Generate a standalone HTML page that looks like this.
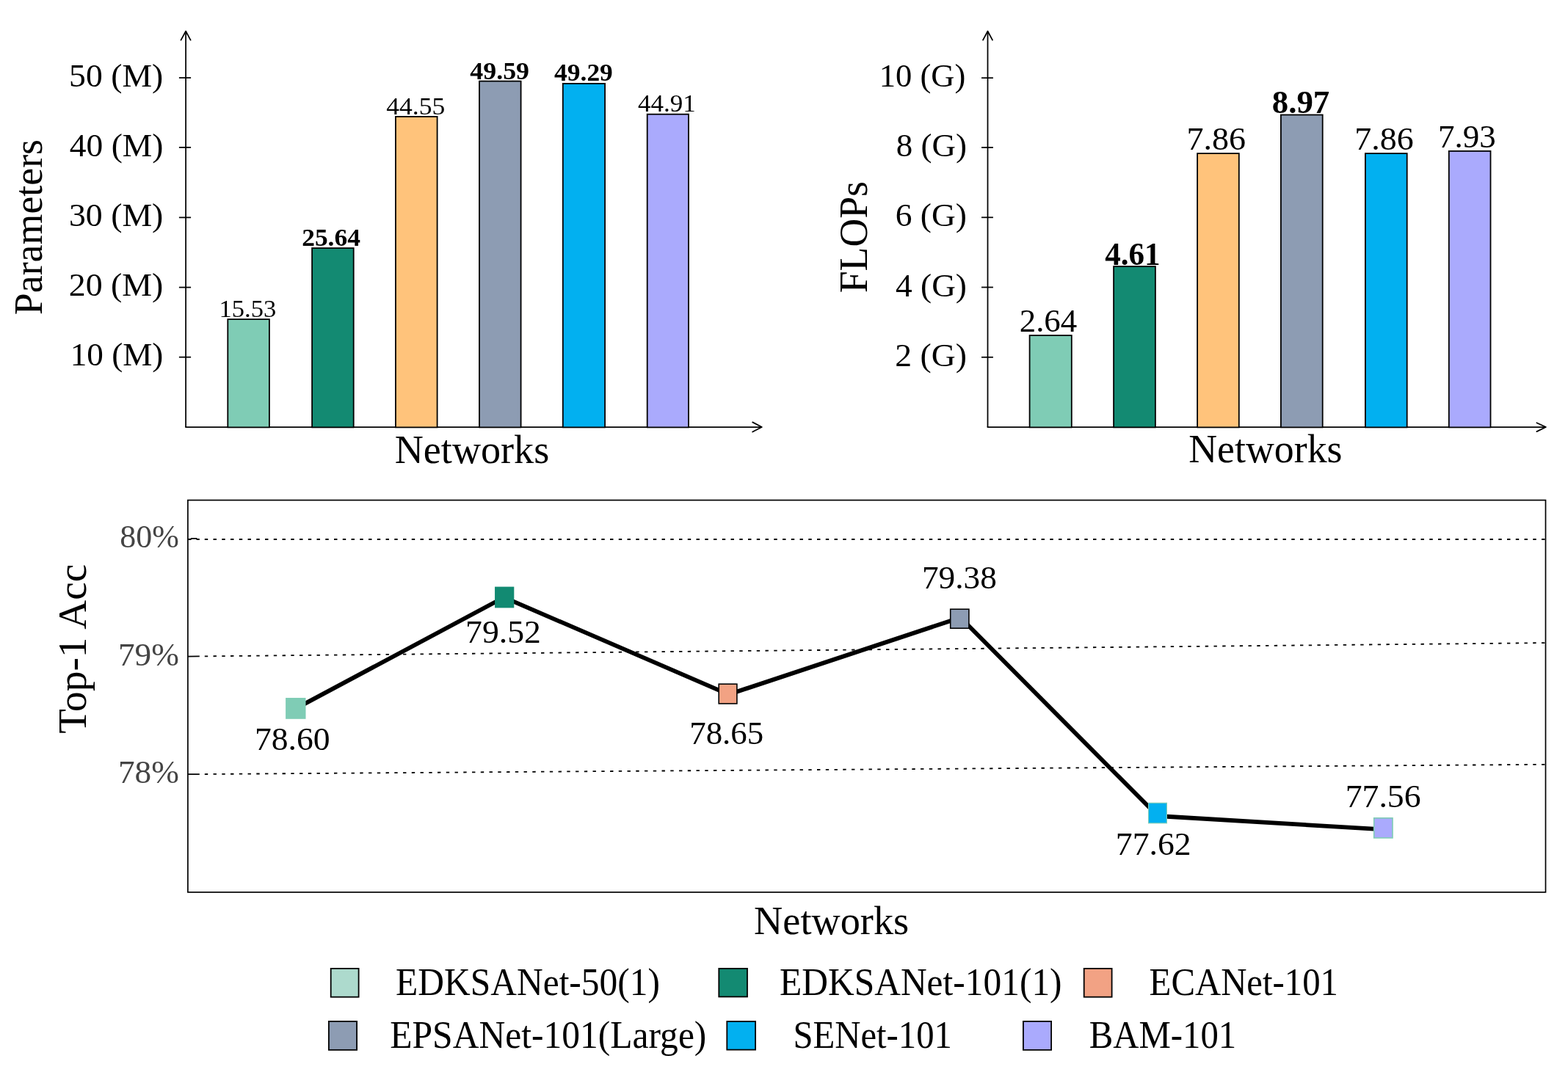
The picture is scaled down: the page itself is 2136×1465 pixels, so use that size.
<!DOCTYPE html>
<html><head><meta charset="utf-8"><title>Parameters, FLOPs and Top-1 accuracy</title><style>
html,body{margin:0;padding:0;background:#fff;}
svg{display:block;}
text{font-family:"Liberation Serif", "Times New Roman", serif;}
</style></head><body>
<svg width="2136" height="1465" viewBox="0 0 2136 1465">
<rect width="2136" height="1465" fill="#fff"/>
<path d="M253.1 582.0 V43" fill="none" stroke="#000" stroke-width="1.75"/>
<path d="M246.5 54.6 L253.1 42.5 L259.6 54.6" fill="none" stroke="#000" stroke-width="1.75" stroke-linecap="round" stroke-linejoin="round"/>
<path d="M252.3 582.0 H1037" fill="none" stroke="#000" stroke-width="1.75"/>
<path d="M1025.2 575.4 L1037.8 582.0 L1025.2 588.5" fill="none" stroke="#000" stroke-width="1.75" stroke-linecap="round" stroke-linejoin="round"/>
<path d="M243.9 106.0 H260.1" stroke="#000" stroke-width="1.75"/>
<path d="M243.9 200.9 H260.1" stroke="#000" stroke-width="1.75"/>
<path d="M243.9 296.4 H260.1" stroke="#000" stroke-width="1.75"/>
<path d="M243.9 391.6 H260.1" stroke="#000" stroke-width="1.75"/>
<path d="M243.9 486.7 H260.1" stroke="#000" stroke-width="1.75"/>
<rect x="310.3" y="435.1" width="56.6" height="147.3" fill="#7FCCB5" stroke="#000" stroke-width="1.8"/>
<rect x="425.1" y="338.1" width="56.6" height="244.3" fill="#138A72" stroke="#000" stroke-width="1.8"/>
<rect x="538.95" y="158.95" width="56.65" height="423.45" fill="#FFC37B" stroke="#000" stroke-width="1.8"/>
<rect x="653" y="110.6" width="56.6" height="471.8" fill="#8D9CB3" stroke="#000" stroke-width="1.8"/>
<rect x="766.8" y="113.9" width="57.3" height="468.5" fill="#02B0F0" stroke="#000" stroke-width="1.8"/>
<rect x="881.7" y="155.7" width="56.3" height="426.7" fill="#AAAAFD" stroke="#000" stroke-width="1.8"/>
<path d="M1345.5 582.0 V43" fill="none" stroke="#000" stroke-width="1.75"/>
<path d="M1339 54.6 L1345.5 42.5 L1352 54.6" fill="none" stroke="#000" stroke-width="1.75" stroke-linecap="round" stroke-linejoin="round"/>
<path d="M1344.7 582.0 H2105" fill="none" stroke="#000" stroke-width="1.75"/>
<path d="M2093.4 576.2 L2105.9 582.0 L2093.4 588.1" fill="none" stroke="#000" stroke-width="1.75" stroke-linecap="round" stroke-linejoin="round"/>
<path d="M1337 106.2 H1352.9" stroke="#000" stroke-width="1.75"/>
<path d="M1337 201.0 H1352.9" stroke="#000" stroke-width="1.75"/>
<path d="M1337 296.3 H1352.9" stroke="#000" stroke-width="1.75"/>
<path d="M1337 391.5 H1352.9" stroke="#000" stroke-width="1.75"/>
<path d="M1337 486.8 H1352.9" stroke="#000" stroke-width="1.75"/>
<rect x="1402.6" y="457.1" width="57.2" height="125.3" fill="#7FCCB5" stroke="#000" stroke-width="1.8"/>
<rect x="1517.1" y="363.1" width="56.8" height="219.3" fill="#138A72" stroke="#000" stroke-width="1.8"/>
<rect x="1631.1" y="209.1" width="56.7" height="373.3" fill="#FFC37B" stroke="#000" stroke-width="1.8"/>
<rect x="1744.9" y="156.5" width="56.8" height="425.9" fill="#8D9CB3" stroke="#000" stroke-width="1.8"/>
<rect x="1859.9" y="209.1" width="56.8" height="373.3" fill="#02B0F0" stroke="#000" stroke-width="1.8"/>
<rect x="1973.8" y="205.9" width="56.7" height="376.5" fill="#AAAAFD" stroke="#000" stroke-width="1.8"/>
<rect x="255.9" y="681.6" width="1849.6" height="534.3" fill="none" stroke="#000" stroke-width="1.7"/>
<path d="M256.0 735.0 H259.8 L260.6 733.9 H267.6 L268.4 735.0 H271.8" fill="none" stroke="#000" stroke-width="1.8"/>
<path d="M278.8 735 L2104.6 735.0" stroke="#000" stroke-width="1.8" stroke-dasharray="4.4 7.35"/>
<path d="M256.0 894.6 L271.8 894.44" stroke="#000" stroke-width="1.8"/>
<path d="M278.8 894.37 L2104.6 876.1" stroke="#000" stroke-width="1.8" stroke-dasharray="4.4 7.35"/>
<path d="M256.0 1055.2 L271.8 1055.09" stroke="#000" stroke-width="1.8"/>
<path d="M278.8 1055.03 L2104.6 1041.8" stroke="#000" stroke-width="1.8" stroke-dasharray="4.4 7.35"/>
<path d="M402.8 965.6 L687.2 813.8 M687.2 814.4 L991.5 945.8 M991.5 946.7 L1307.3 841.9 M1307.3 840.5 L1577.0 1111.8 M1577.0 1112.0 L1884.35 1130.4" fill="none" stroke="#000" stroke-width="5.8" stroke-linecap="round"/>
<rect x="389.1" y="951" width="27.4" height="28.8" fill="#7FCCB5"/>
<rect x="674.05" y="799.6" width="26.25" height="28.8" fill="#128A72"/>
<rect x="979.2" y="932.2" width="24.7" height="26.7" fill="#F2A283" stroke="#000" stroke-width="1.6"/>
<rect x="1294.7" y="830.2" width="25.2" height="26" fill="#8D9CB3" stroke="#000" stroke-width="1.6"/>
<rect x="1564.55" y="1094.25" width="24.9" height="27.6" fill="#02B0F0" stroke="#7FCCB5" stroke-width="1.1"/>
<rect x="1871.7" y="1114.8" width="25.3" height="27.1" fill="#AAAAFD" stroke="#7FCCB5" stroke-width="1.6"/>
<rect x="450.7" y="1319.9" width="37.9" height="38.8" fill="#ADDACD" stroke="#000" stroke-width="1.8"/>
<rect x="979.3" y="1319.9" width="38.7" height="38.5" fill="#138A72" stroke="#000" stroke-width="1.8"/>
<rect x="1476.7" y="1319.9" width="37.9" height="38.8" fill="#F2A284" stroke="#000" stroke-width="1.8"/>
<rect x="447.9" y="1391.9" width="38.2" height="38.95" fill="#8D9CB3" stroke="#000" stroke-width="1.8"/>
<rect x="990.3" y="1392" width="38.8" height="38.6" fill="#02B0F0" stroke="#000" stroke-width="1.8"/>
<rect x="1393.9" y="1391.9" width="38.2" height="38.95" fill="#AAAAFD" stroke="#000" stroke-width="1.8"/>
<text transform="translate(94.11 117.9) scale(1.0148 1)" font-size="45">50 (M)</text>
<text transform="translate(94.79 212.9) scale(1.0110 1)" font-size="45">40 (M)</text>
<text transform="translate(93.91 308) scale(1.0180 1)" font-size="45">30 (M)</text>
<text transform="translate(93.76 402.7) scale(1.0192 1)" font-size="45">20 (M)</text>
<text transform="translate(95.69 497.8) scale(1.0037 1)" font-size="45">10 (M)</text>
<text transform="translate(1197.74 118.2) scale(0.9898 1)" font-size="45">10 (G)</text>
<text transform="translate(1220.75 212.8) scale(1.0000 1)" font-size="45">8 (G)</text>
<text transform="translate(1219.78 308.4) scale(1.0103 1)" font-size="45">6 (G)</text>
<text transform="translate(1220.09 403.6) scale(1.0070 1)" font-size="45">4 (G)</text>
<text transform="translate(1219.27 498.8) scale(1.0157 1)" font-size="45">2 (G)</text>
<text transform="translate(298.46 432) scale(1.0471 1)" font-size="33">15.53</text>
<text transform="translate(411.19 335.4) scale(1.0740 1)" font-size="33" font-weight="bold">25.64</text>
<text transform="translate(526.19 155.7) scale(1.0782 1)" font-size="33">44.55</text>
<text transform="translate(640.26 108) scale(1.0883 1)" font-size="33" font-weight="bold">49.59</text>
<text transform="translate(755.06 109.8) scale(1.0745 1)" font-size="33" font-weight="bold">49.29</text>
<text transform="translate(868.9 152.3) scale(1.0629 1)" font-size="33">44.91</text>
<text transform="translate(1388.71 452.4) scale(0.9974 1)" font-size="45">2.64</text>
<text transform="translate(1505.22 361.4) scale(0.9579 1)" font-size="45" font-weight="bold">4.61</text>
<text transform="translate(1616.53 204.2) scale(1.0242 1)" font-size="45">7.86</text>
<text transform="translate(1732.8 154) scale(0.9967 1)" font-size="45" font-weight="bold">8.97</text>
<text transform="translate(1845.34 204.2) scale(1.0215 1)" font-size="45">7.86</text>
<text transform="translate(1959.1 201.2) scale(1.0000 1)" font-size="45">7.93</text>
<text transform="translate(537.72 630.8) scale(0.9845 1)" font-size="55">Networks</text>
<text transform="translate(1619.23 630.3) scale(0.9788 1)" font-size="55">Networks</text>
<text transform="translate(1027.12 1273.1) scale(0.9874 1)" font-size="55">Networks</text>
<text transform="translate(163.19 745.8) scale(0.9779 1)" font-size="45" fill="#444">80%</text>
<text transform="translate(160.98 906.8) scale(1.0051 1)" font-size="45" fill="#444">79%</text>
<text transform="translate(160.98 1066.9) scale(1.0051 1)" font-size="45" fill="#444">78%</text>
<text transform="translate(346.96 1021.9) scale(1.0145 1)" font-size="45">78.60</text>
<text transform="translate(634.05 876.3) scale(1.0162 1)" font-size="45">79.52</text>
<text transform="translate(939.21 1013.5) scale(0.9979 1)" font-size="45">78.65</text>
<text transform="translate(1255.98 801.9) scale(1.0062 1)" font-size="45">79.38</text>
<text transform="translate(1519.85 1165) scale(1.0162 1)" font-size="45">77.62</text>
<text transform="translate(1832.65 1100) scale(1.0165 1)" font-size="45">77.56</text>
<text transform="translate(538.97 1355.5) scale(0.9519 1)" font-size="52">EDKSANet-50(1)</text>
<text transform="translate(1062.07 1355.5) scale(0.9511 1)" font-size="52">EDKSANet-101(1)</text>
<text transform="translate(1565.59 1355.5) scale(0.9383 1)" font-size="52">ECANet-101</text>
<text transform="translate(531.27 1428.3) scale(0.9529 1)" font-size="52">EPSANet-101(Large)</text>
<text transform="translate(1080.42 1427.8) scale(0.9367 1)" font-size="52">SENet-101</text>
<text transform="translate(1483.79 1427.6) scale(0.9376 1)" font-size="52">BAM-101</text>
<text transform="translate(57.3 429.17) rotate(-90) scale(0.9794 1)" font-size="55">Parameters</text>
<text transform="translate(1180.9 399.26) rotate(-90) scale(0.9764 1)" font-size="55">FLOPs</text>
<text transform="translate(116.6 999.81) rotate(-90) scale(1.0055 1)" font-size="55">Top-1 Acc</text>
</svg>
</body></html>
